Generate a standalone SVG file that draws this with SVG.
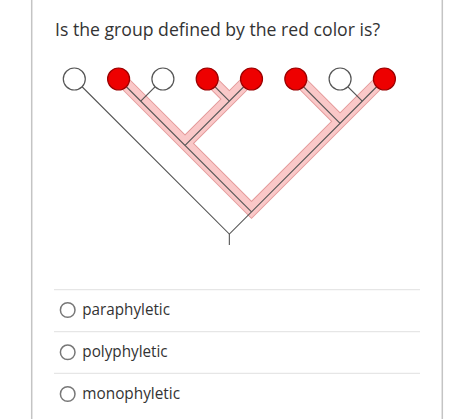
<svg xmlns="http://www.w3.org/2000/svg" width="474" height="419" viewBox="0 0 474 419">
<style>
.title{font-family:"Open Sans","Noto Sans","Liberation Sans",sans-serif;font-size:19px;fill:#333}
.opt{font-family:"Open Sans","Noto Sans","Liberation Sans",sans-serif;font-size:17px;fill:#333}
.br{stroke:#555;stroke-width:1.1;fill:none}
.bandO{stroke:#e49a9a;stroke-width:13;fill:none;stroke-linejoin:miter;stroke-miterlimit:10}
.bandI{stroke:#fac8c8;stroke-width:11;fill:none;stroke-linejoin:miter;stroke-miterlimit:10}
.w{fill:#fff;stroke:#555;stroke-width:1.2}
.r{fill:#ee0000;stroke:#9a0000;stroke-width:1.2}
.radio{fill:#fff;stroke:#777;stroke-width:1.5}
.sep{stroke:#e0e0e0;stroke-width:1}
.edge{stroke:#c4c4c4;stroke-width:1.5}
</style>
<rect width="474" height="419" fill="#fff"/>
<line class="edge" x1="31.7" y1="0" x2="31.7" y2="419"/>
<line class="edge" x1="442.3" y1="0" x2="442.3" y2="419"/>
<text class="title" x="55" y="36" textLength="325" lengthAdjust="spacingAndGlyphs">Is the group defined by the red color is?</text>
<g id="highlight">
<path class="bandO" d="M118.6,77 L251.5,209.9 L384.4,77 M185.05,143.45 L251.5,77 M229.35,99.15 L207.2,77 M340.1,121.3 L295.8,77"/>
<path class="bandI" d="M118.6,77 L251.5,209.9 L384.4,77 M185.05,143.45 L251.5,77 M229.35,99.15 L207.2,77 M340.1,121.3 L295.8,77"/>
</g>
<g id="connectors">
<path class="br" d="M74.3,79 L229.35,234.05 L384.4,79"/>
<path class="br" d="M229.35,234.05 L229.35,245"/>
<path class="br" d="M118.6,79 L251.5,211.9"/>
<path class="br" d="M162.9,79 L140.75,101.15"/>
<path class="br" d="M251.5,79 L185.05,145.45"/>
<path class="br" d="M207.2,79 L229.35,101.15"/>
<path class="br" d="M295.8,79 L340.1,123.3"/>
<path class="br" d="M340.1,79 L362.25,101.15"/>
</g>
<g id="leaf1"><circle class="w" cx="74.3" cy="79" r="11"/></g>
<g id="leaf2"><circle class="r" cx="118.6" cy="79" r="11"/></g>
<g id="leaf3"><circle class="w" cx="162.9" cy="79" r="11"/></g>
<g id="leaf4"><circle class="r" cx="207.2" cy="79" r="11"/></g>
<g id="leaf5"><circle class="r" cx="251.5" cy="79" r="11"/></g>
<g id="leaf6"><circle class="r" cx="295.8" cy="79" r="11"/></g>
<g id="leaf7"><circle class="w" cx="340.1" cy="79" r="11"/></g>
<g id="leaf8"><circle class="r" cx="384.4" cy="79" r="11"/></g>
<line class="sep" x1="54" y1="289.7" x2="420" y2="289.7"/>
<line class="sep" x1="54" y1="331.7" x2="420" y2="331.7"/>
<line class="sep" x1="54" y1="373.3" x2="420" y2="373.3"/>
<g id="opt1"><circle class="radio" cx="67.7" cy="310" r="7.3"/><text class="opt" x="82.3" y="315" textLength="87.7" lengthAdjust="spacingAndGlyphs">paraphyletic</text></g>
<g id="opt2"><circle class="radio" cx="67.7" cy="352.3" r="7.3"/><text class="opt" x="82.3" y="357" textLength="85.4" lengthAdjust="spacingAndGlyphs">polyphyletic</text></g>
<g id="opt3"><circle class="radio" cx="67.7" cy="394" r="7.3"/><text class="opt" x="82.3" y="399" textLength="97.7" lengthAdjust="spacingAndGlyphs">monophyletic</text></g>
</svg>
